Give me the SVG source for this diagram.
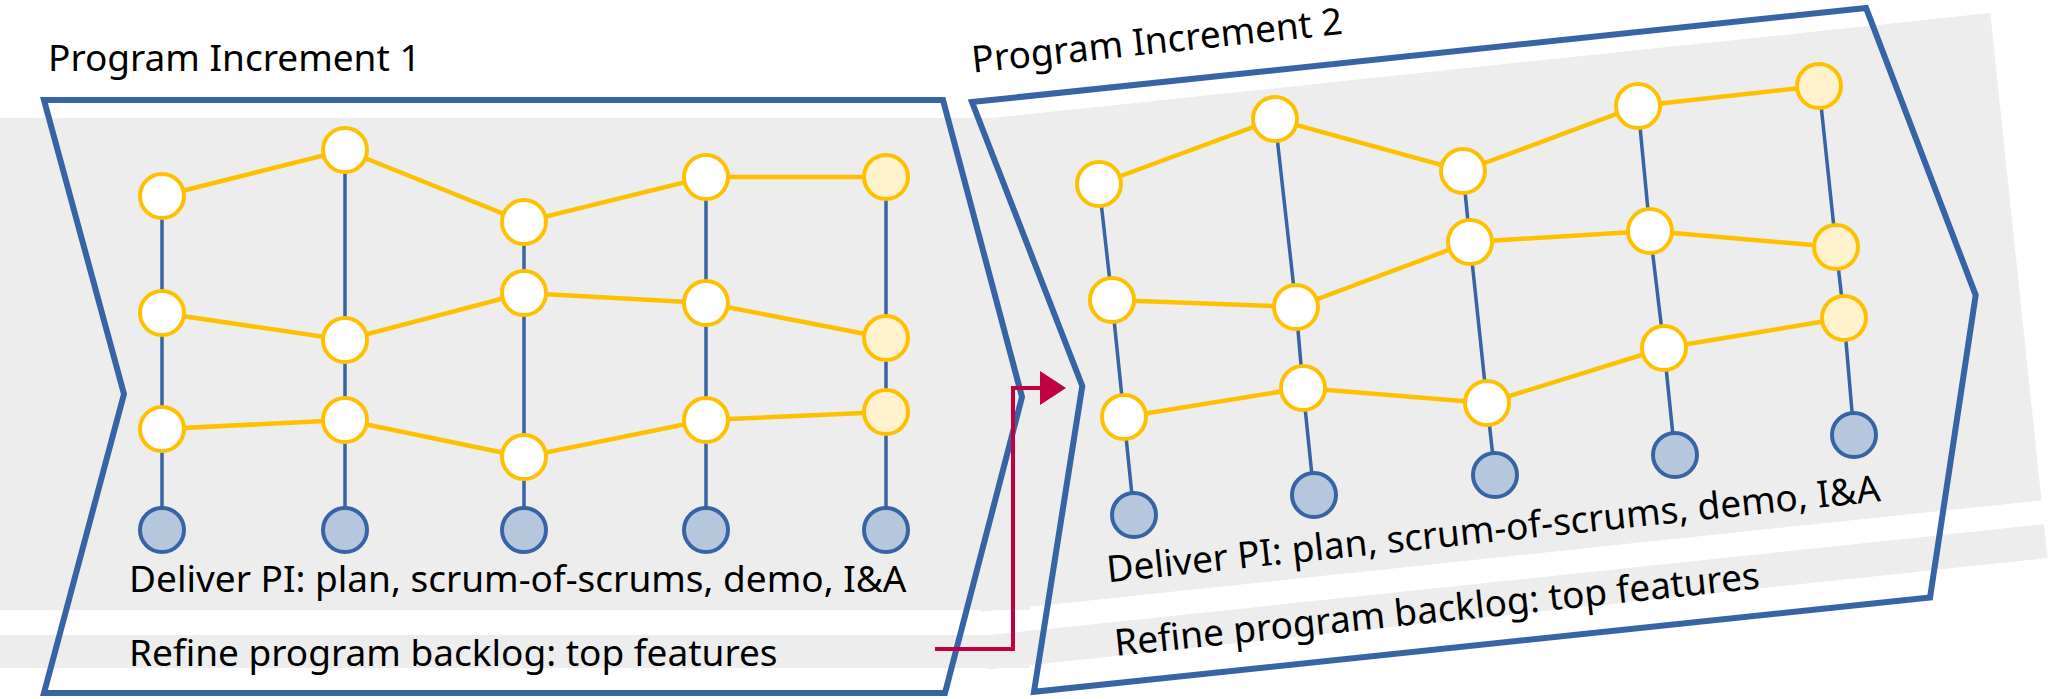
<svg xmlns="http://www.w3.org/2000/svg" width="2048" height="699" viewBox="0 0 2048 699">
<defs>
<style>
.band{fill:#EDEDED;stroke:none}
.frame{fill:none;stroke:#3764A4;stroke-width:6;stroke-linejoin:miter}
.lbl{font-family:"Noto Sans","Open Sans","DejaVu Sans",sans-serif;font-size:37px;fill:#000}
.vline{fill:none;stroke:#3764A4;stroke-width:3.5}
.yline{fill:none;stroke:#FFC000;stroke-width:4.5}
.yn{fill:#FFFFFF;stroke:#FFC000;stroke-width:4}
.yl{fill:#FFF2CC;stroke:#FFC000;stroke-width:4}
.bn{fill:#B4C7DC;stroke:#3764A4;stroke-width:4}
.red{fill:none;stroke:#C00040;stroke-width:4}
</style>
<marker id="arr" viewBox="0 0 10 10" refX="0" refY="5" markerWidth="26" markerHeight="34" markerUnits="userSpaceOnUse" orient="auto" preserveAspectRatio="none"><path d="M0,0 L10,5 L0,10 Z" fill="#C00040"/></marker>
</defs>
<rect width="2048" height="699" fill="#FFFFFF"/>
<g id="bands">
<rect class="band" x="0" y="118" width="1030" height="492"/>
<rect class="band" x="0" y="635" width="1030" height="33"/>
<g transform="translate(972,102) rotate(-6) translate(-44,-100)">
<rect class="band" x="0" y="118" width="1066" height="490"/>
<rect class="band" x="0" y="632" width="1066" height="34"/>
</g>
</g>
<g id="pi1">
<polygon class="frame" points="44,100 943,100 1022,397 945,693 44,693 124,394"/>
<text class="lbl" x="48" y="71">Program Increment 1</text>
<text class="lbl" x="129" y="592">Deliver PI: plan, scrum-of-scrums, demo, I&amp;A</text>
<text class="lbl" x="129" y="666">Refine program backlog: top features</text>
</g>
<g id="pi2" transform="translate(972,102) rotate(-6) translate(-44,-100)">
<polygon class="frame" points="44,100 943,100 1022,397 945,693 44,693 124,394"/>
<text class="lbl" x="48" y="71">Program Increment 2</text>
<text class="lbl" x="129" y="592">Deliver PI: plan, scrum-of-scrums, demo, I&amp;A</text>
<text class="lbl" x="129" y="666">Refine program backlog: top features</text>
</g>
<g id="connectors">
<polyline class="vline" points="162,196 162,530"/>
<polyline class="vline" points="345,150 345,530"/>
<polyline class="vline" points="524,222 524,530"/>
<polyline class="vline" points="706,177 706,530"/>
<polyline class="vline" points="886,177 886,530"/>
<polyline class="yline" points="162,196 345,150 524,222 706,177 886,177"/>
<polyline class="yline" points="162,313 345,340 524,293 706,303 886,338"/>
<polyline class="yline" points="162,429 345,420 524,457 706,420 886,412"/>
<polyline class="vline" points="1099,184 1112,300 1124,417 1134,515"/>
<polyline class="vline" points="1275,119 1296,307 1303,388 1314,495"/>
<polyline class="vline" points="1463,171 1470,242 1487,403 1495,475"/>
<polyline class="vline" points="1638,106 1650,231 1664,348 1675,455"/>
<polyline class="vline" points="1819,86 1836,247 1844,318 1854,435"/>
<polyline class="yline" points="1099,184 1275,119 1463,171 1638,106 1819,86"/>
<polyline class="yline" points="1112,300 1296,307 1470,242 1650,231 1836,247"/>
<polyline class="yline" points="1124,417 1303,388 1487,403 1664,348 1844,318"/>
</g>
<g id="nodes">
<g id="n1-1-1"><circle class="yn" cx="162" cy="196" r="22"/></g>
<g id="n1-1-2"><circle class="yn" cx="162" cy="313" r="22"/></g>
<g id="n1-1-3"><circle class="yn" cx="162" cy="429" r="22"/></g>
<g id="n1-1-b"><circle class="bn" cx="162" cy="530" r="22"/></g>
<g id="n1-2-1"><circle class="yn" cx="345" cy="150" r="22"/></g>
<g id="n1-2-2"><circle class="yn" cx="345" cy="340" r="22"/></g>
<g id="n1-2-3"><circle class="yn" cx="345" cy="420" r="22"/></g>
<g id="n1-2-b"><circle class="bn" cx="345" cy="530" r="22"/></g>
<g id="n1-3-1"><circle class="yn" cx="524" cy="222" r="22"/></g>
<g id="n1-3-2"><circle class="yn" cx="524" cy="293" r="22"/></g>
<g id="n1-3-3"><circle class="yn" cx="524" cy="457" r="22"/></g>
<g id="n1-3-b"><circle class="bn" cx="524" cy="530" r="22"/></g>
<g id="n1-4-1"><circle class="yn" cx="706" cy="177" r="22"/></g>
<g id="n1-4-2"><circle class="yn" cx="706" cy="303" r="22"/></g>
<g id="n1-4-3"><circle class="yn" cx="706" cy="420" r="22"/></g>
<g id="n1-4-b"><circle class="bn" cx="706" cy="530" r="22"/></g>
<g id="n1-5-1"><circle class="yl" cx="886" cy="177" r="22"/></g>
<g id="n1-5-2"><circle class="yl" cx="886" cy="338" r="22"/></g>
<g id="n1-5-3"><circle class="yl" cx="886" cy="412" r="22"/></g>
<g id="n1-5-b"><circle class="bn" cx="886" cy="530" r="22"/></g>
<g id="n2-1-1"><circle class="yn" cx="1099" cy="184" r="22"/></g>
<g id="n2-1-2"><circle class="yn" cx="1112" cy="300" r="22"/></g>
<g id="n2-1-3"><circle class="yn" cx="1124" cy="417" r="22"/></g>
<g id="n2-1-b"><circle class="bn" cx="1134" cy="515" r="22"/></g>
<g id="n2-2-1"><circle class="yn" cx="1275" cy="119" r="22"/></g>
<g id="n2-2-2"><circle class="yn" cx="1296" cy="307" r="22"/></g>
<g id="n2-2-3"><circle class="yn" cx="1303" cy="388" r="22"/></g>
<g id="n2-2-b"><circle class="bn" cx="1314" cy="495" r="22"/></g>
<g id="n2-3-1"><circle class="yn" cx="1463" cy="171" r="22"/></g>
<g id="n2-3-2"><circle class="yn" cx="1470" cy="242" r="22"/></g>
<g id="n2-3-3"><circle class="yn" cx="1487" cy="403" r="22"/></g>
<g id="n2-3-b"><circle class="bn" cx="1495" cy="475" r="22"/></g>
<g id="n2-4-1"><circle class="yn" cx="1638" cy="106" r="22"/></g>
<g id="n2-4-2"><circle class="yn" cx="1650" cy="231" r="22"/></g>
<g id="n2-4-3"><circle class="yn" cx="1664" cy="348" r="22"/></g>
<g id="n2-4-b"><circle class="bn" cx="1675" cy="455" r="22"/></g>
<g id="n2-5-1"><circle class="yl" cx="1819" cy="86" r="22"/></g>
<g id="n2-5-2"><circle class="yl" cx="1836" cy="247" r="22"/></g>
<g id="n2-5-3"><circle class="yl" cx="1844" cy="318" r="22"/></g>
<g id="n2-5-b"><circle class="bn" cx="1854" cy="435" r="22"/></g>
</g>
<g id="flow">
<polyline class="red" points="935,649 1013,649 1013,388 1040,388" marker-end="url(#arr)"/>
</g>
</svg>
